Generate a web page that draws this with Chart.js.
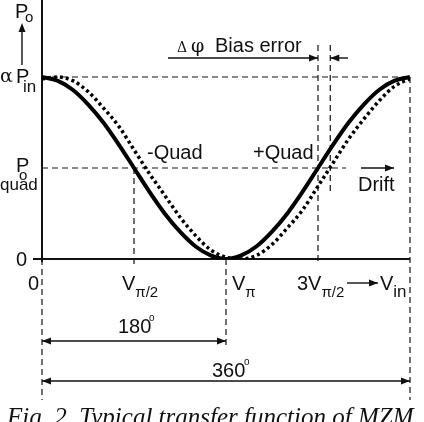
<!DOCTYPE html>
<html>
<head>
<meta charset="utf-8">
<script src="https://cdn.jsdelivr.net/npm/chart.js@4/dist/chart.umd.min.js"></script>
<style>
body{margin:0;background:#fff}
#wrap{width:424px;height:422px;position:relative}
</style>
</head>
<body>
<div id="wrap"><canvas id="mzm"></canvas></div>
<script>
// phase (degrees) along the bias voltage axis
const phaseDeg=[0,15,30,45,60,75,90,105,120,135,150,165,180,195,210,225,240,255,270,285,300,315,330,345,360]
// normalised output power, ideal bias point (solid)
const idealPower=[1.00,0.98,0.93,0.85,0.75,0.63,0.50,0.37,0.25,0.15,0.07,0.02,0.00,0.02,0.07,0.15,0.25,0.37,0.50,0.63,0.75,0.85,0.93,0.98,1.00]
// normalised output power after drift (dotted)
const driftedPower=[0.99,1.00,0.98,0.92,0.83,0.73,0.60,0.47,0.35,0.23,0.13,0.05,0.01,0.00,0.02,0.08,0.17,0.27,0.40,0.53,0.66,0.77,0.87,0.95,0.99]

// marked voltages on the x axis
const tickDeg=[0,90,180,270,360]
const tickMain=["0","V","V","3V","V"]
const tickSub=["","π/2","π","π/2","in"]
// power levels: zero, quadrature, max
const levelValues=[0,0.5,1]
const biasErrorDeg=12
const caption="Fig. 2. Typical transfer function of MZM"

const SANS="'Liberation Sans', Arial, sans-serif"
const SERIF="'DejaVu Serif', serif"

function arrowHead(ctx,x,y,dir){
ctx.beginPath()
ctx.moveTo(x,y)
ctx.lineTo(x-dir*9,y-3.5)
ctx.lineTo(x-dir*9,y+3.5)
ctx.closePath()
ctx.fill()
}
function hArrow(ctx,x1,x2,y,heads){
ctx.setLineDash([])
ctx.lineWidth=1.4
ctx.beginPath();ctx.moveTo(x1,y);ctx.lineTo(x2,y);ctx.stroke()
if(heads.includes("r")) arrowHead(ctx,x2,y,1)
if(heads.includes("l")) arrowHead(ctx,x1,y,-1)
}
function dashed(ctx,x1,y1,x2,y2){
ctx.setLineDash([6,4])
ctx.lineWidth=1.2
ctx.beginPath();ctx.moveTo(x1,y1);ctx.lineTo(x2,y2);ctx.stroke()
ctx.setLineDash([])
}
function txt(ctx,s,x,y,size,font,style){
ctx.font=(style?style+" ":"")+size+"px "+(font||SANS)
ctx.fillText(s,x,y)
return x+ctx.measureText(s).width
}

const decor={
id:"decor",
beforeDatasetsDraw(chart){
const ctx=chart.ctx
const X=v=>chart.scales.x.getPixelForValue(v)
const Y=v=>chart.scales.y.getPixelForValue(v)
ctx.save()
ctx.strokeStyle="#111";ctx.fillStyle="#111"
// axes
ctx.lineWidth=2
ctx.beginPath();ctx.moveTo(X(0),0);ctx.lineTo(X(0),Y(0)+3);ctx.stroke()
ctx.beginPath();ctx.moveTo(X(0)-9,Y(0));ctx.lineTo(X(360),Y(0));ctx.stroke()
// guide lines
dashed(ctx,X(0),Y(levelValues[2]),X(360),Y(levelValues[2]))
dashed(ctx,X(0),Y(levelValues[1]),X(360)-64,Y(levelValues[1]))
dashed(ctx,X(90),Y(levelValues[1]),X(90),Y(0)+6)
dashed(ctx,X(180),Y(0),X(180),Y(0)+88)
dashed(ctx,X(270),45,X(270),Y(0)+6)
dashed(ctx,X(270+biasErrorDeg),45,X(270+biasErrorDeg),195)
dashed(ctx,X(0),Y(0),X(0),400)
dashed(ctx,X(360),Y(levelValues[2]),X(360),400)
ctx.restore()
},
afterDatasetsDraw(chart){
const ctx=chart.ctx
const X=v=>chart.scales.x.getPixelForValue(v)
const Y=v=>chart.scales.y.getPixelForValue(v)
ctx.save()
ctx.strokeStyle="#111";ctx.fillStyle="#111"
ctx.textBaseline="alphabetic"
// y axis title P_o with arrow
txt(ctx,"P",15,18,20)
txt(ctx,"o",25,22,15)
ctx.lineWidth=1.4
ctx.beginPath();ctx.moveTo(22,65);ctx.lineTo(22,30);ctx.stroke()
ctx.beginPath();ctx.moveTo(22,23);ctx.lineTo(18.5,32);ctx.lineTo(25.5,32);ctx.closePath();ctx.fill()
// level labels
txt(ctx,"α",0,Y(1)+5,19,SERIF)
txt(ctx,"P",16,Y(1)+6,20)
txt(ctx,"in",23,Y(1)+15,17)
txt(ctx,"P",16,Y(0.5)+4,20)
txt(ctx,"o",19,Y(0.5)+12,15)
txt(ctx,"quad",0,Y(0.5)+22,17)
txt(ctx,"0",16,Y(0)+7,20)
// x tick labels
const tx=[28,122,232,297,380]
for(let i=0;i<tickDeg.length;i++){
let x=txt(ctx,tickMain[i],tx[i],Y(0)+31,20)
if(tickSub[i]) txt(ctx,tickSub[i],x,Y(0)+38,tickSub[i]==="in"?17:15)
}
hArrow(ctx,347,378,Y(0)+24,"r")
// quad labels
txt(ctx,"-Quad",147,Y(0.5)-9,20)
txt(ctx,"+Quad",253,Y(0.5)-9,20)
txt(ctx,"Drift",358,Y(0.5)+23,20)
hArrow(ctx,361,394,Y(0.5),"r")
// bias error
txt(ctx,"Δ",177,52,14,SERIF)
txt(ctx,"φ",191,52,19,SERIF)
txt(ctx,"Bias error",215,52,20)
hArrow(ctx,168,X(270),58,"r")
hArrow(ctx,X(270+biasErrorDeg),348,58,"l")
// phase spans
txt(ctx,"180",118,Y(0)+74,20)
txt(ctx,"o",149,Y(0)+62,10)
hArrow(ctx,X(0),X(180),Y(0)+82,"lr")
txt(ctx,"360",212,Y(0)+118,20)
txt(ctx,"o",244,Y(0)+106,10)
hArrow(ctx,X(0),X(360),Y(0)+122,"lr")
// caption
txt(ctx,caption,7,425,25,"'Liberation Serif', 'Times New Roman', serif","italic")
ctx.restore()
}
}

const chart=new Chart(document.getElementById("mzm"),{
type:"line",
data:{
datasets:[{
label:"ideal",
data:phaseDeg.map((x,i)=>({x:x,y:idealPower[i]})),
borderColor:"#000",
borderWidth:4,
cubicInterpolationMode:"monotone",
pointRadius:0
},{
label:"drift",
data:phaseDeg.map((x,i)=>({x:x,y:driftedPower[i]})),
borderColor:"#000",
borderWidth:3.5,
borderDash:[3,3],
cubicInterpolationMode:"monotone",
pointRadius:0
}]
},
options:{
responsive:true,
maintainAspectRatio:false,
animation:false,
layout:{padding:{left:42,right:14,top:0,bottom:163}},
plugins:{legend:{display:false},tooltip:{enabled:false}},
scales:{
x:{type:"linear",display:false,min:0,max:360},
y:{display:false,min:0,max:1.423}
}
},
plugins:[decor]
})
</script>
</body>
</html>
